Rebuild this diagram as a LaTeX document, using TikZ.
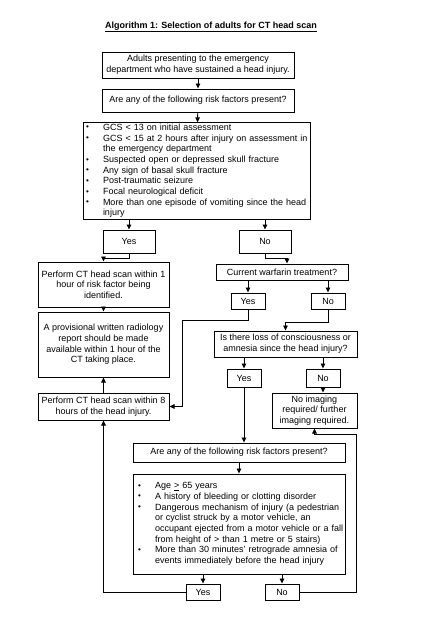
\documentclass[tikz,border=0pt]{standalone}
\usepackage{fontspec}
\setmainfont{Liberation Sans}
\usepackage{tikz}
\usetikzlibrary{arrows.meta,calc}

\newcommand{\chartfont}{\fontsize{9}{10.7}\selectfont}
\newcommand{\bul}{\raisebox{0.4pt}{\fontsize{8}{8}\selectfont\textbullet}}

\begin{document}
\begin{tikzpicture}[
    x=1pt, y=-1pt,
    >={Triangle[length=5pt,width=4.5pt]},
    box/.style={draw, line width=1pt, align=center, inner sep=1pt, font=\chartfont},
    answerbox/.style={box, minimum width=34pt, minimum height=16pt},
    listbox/.style={box, align=left, inner ysep=0pt},
    arrow/.style={->, line width=0.9pt},
]
\useasboundingbox[fill=white] (0,0) rectangle (424,637);

% =============================================
% Title and first question
% =============================================
\node[font=\fontsize{9}{11}\selectfont\bfseries] at (211,27) (title)
    {\underline{Algorithm 1: Selection of adults for CT head scan}};

\node[box, minimum width=192pt, minimum height=26pt] at (198,65) (start)
    {Adults presenting to the emergency\\department who have sustained a head injury.};

\node[box, minimum width=192pt, minimum height=23pt] at (198,100.5) (riskq)
    {Are any of the following risk factors present?};
\draw[arrow] (start) -- (riskq);

\node[listbox, inner xsep=3pt, text width=221pt, minimum height=96pt] at (196.5,171) (riskbox)
    {\begin{tabular}{@{}p{17pt}@{}l@{}}
     \bul & GCS < 13 on initial assessment\\
     \bul & GCS < 15 at 2 hours after injury on assessment in\\
          & the emergency department\\
     \bul & Suspected open or depressed skull fracture\\
     \bul & Any sign of basal skull fracture\\
     \bul & Post-traumatic seizure\\
     \bul & Focal neurological deficit\\
     \bul & More than one episode of vomiting since the head\\
          & injury
     \end{tabular}};
\draw[arrow] (riskq) -- (riskbox);

\node[box, minimum width=52pt, minimum height=23pt] at (129,241.5) (yes_a) {Yes};
\node[box, minimum width=52pt, minimum height=23pt] at (265,241.5) (no_a) {No};
\draw[arrow] (yes_a.north |- riskbox.south) -- (yes_a.north);
\draw[arrow] (no_a.north |- riskbox.south) -- (no_a.north);

% =============================================
% LEFT: scan within 1 hour / 8 hours
% =============================================
\node[box, minimum width=131pt, minimum height=45pt] at (103.5,284.5) (ct1h)
    {Perform CT head scan within 1\\hour of risk factor being\\identified.};
\node[box, minimum width=131pt, minimum height=65pt] at (103.5,344.5) (report)
    {A provisional written radiology\\report should be made\\available within 1 hour of the\\CT taking place.};
\node[box, minimum width=131pt, minimum height=27pt] at (103.5,406.5) (ct8h)
    {Perform CT head scan within 8\\hours of the head injury.};

\draw[arrow] (yes_a.south) -- ++(0,5) -| (ct1h.north);
\draw[arrow] (ct1h) -- (report);
\draw[arrow] (ct8h) -- (report);

% =============================================
% RIGHT: warfarin and loss of consciousness
% =============================================
\node[box, minimum width=132pt, minimum height=16pt] at (282,272) (warfarin)
    {Current warfarin treatment?};
\draw[arrow] (no_a.south) -- ++(0,5) -| ([xshift=5pt]warfarin.north);

\node[answerbox] at (248,301) (yes_w) {Yes};
\node[answerbox] at (328,301) (no_w) {No};
\draw[arrow] (yes_w.north |- warfarin.south) -- (yes_w.north);
\draw[arrow] (no_w.north |- warfarin.south) -- (no_w.north);

\draw[arrow] (yes_w.south) -- ++(0,11) -| ([xshift=13pt]ct8h.east) -- (ct8h.east);

\node[box, minimum width=143pt, minimum height=26pt] at (285.5,344) (lossq)
    {Is there loss of consciousness or\\amnesia since the head injury?};
\draw[arrow] (no_w.south) -- ++(0,13) -| (lossq.north);

\node[answerbox, minimum height=18pt] at (244,378) (yes_l) {Yes};
\node[answerbox, minimum height=18pt] at (323,378) (no_l) {No};
\draw[arrow] (yes_l.north |- lossq.south) -- (yes_l.north);
\draw[arrow] (no_l.north |- lossq.south) -- (no_l.north);

\node[box, minimum width=85pt, minimum height=35pt] at (314.5,410.5) (noimg)
    {No imaging\\required/ further\\imaging required.};
\draw[arrow] (no_l.south) -- (no_l.south |- noimg.north);

% =============================================
% BOTTOM: second set of risk factors
% =============================================
\node[box, minimum width=212pt, minimum height=19pt] at (239,452.5) (riskq2)
    {Are any of the following risk factors present?};
\draw[arrow] (yes_l.south) -- (yes_l.south |- riskq2.north);

\node[listbox, inner xsep=5pt, text width=202pt, minimum height=100pt] at (239,524) (riskbox2)
    {\begin{tabular}{@{}p{17pt}@{}l@{}}
     \bul & Age \underline{>} 65 years\\
     \bul & A history of bleeding or clotting disorder\\
     \bul & Dangerous mechanism of injury (a pedestrian\\
          & or cyclist struck by a motor vehicle, an\\
          & occupant ejected from a motor vehicle or a fall\\
          & from height of > than 1 metre or 5 stairs)\\
     \bul & More than 30 minutes' retrograde amnesia of\\
          & events immediately before the head injury
     \end{tabular}};
\draw[arrow] (riskq2) -- (riskbox2);

\node[answerbox] at (203,592) (yes_b) {Yes};
\node[answerbox] at (282,592) (no_b) {No};
\draw[arrow] (yes_b.north |- riskbox2.south) -- (yes_b.north);
\draw[arrow] (no_b.north |- riskbox2.south) -- (no_b.north);

% loops back
\draw[arrow] (yes_b.west) -| (ct8h.south);
\draw[arrow] (no_b.east) -- ++(57,0) |- ([yshift=-6pt]noimg.south) -- (noimg.south);

\end{tikzpicture}
\end{document}
